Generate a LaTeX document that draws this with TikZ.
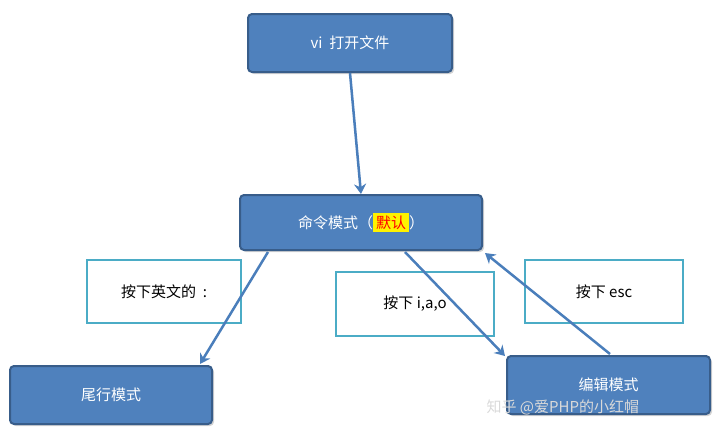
\documentclass[tikz,border=0pt]{standalone}
\usepackage{fontspec}
\setmainfont{Noto Sans CJK SC}
\usetikzlibrary{arrows.meta,shadows}
\definecolor{bfill}{HTML}{4F81BD}
\definecolor{bdraw}{HTML}{385D8A}
\definecolor{tealb}{HTML}{4BACC6}
\definecolor{arr}{HTML}{4A7EBB}
\begin{document}
\begin{tikzpicture}[x=1pt,y=-1pt,
  mode/.style={draw=bdraw,line width=2pt,fill=bfill,rounded corners=4pt,text=white,font=\fontsize{15}{18}\selectfont,drop shadow={opacity=0.35,shadow xshift=2pt,shadow yshift=-2pt}},
  lab/.style={draw=tealb,line width=2.5pt,fill=white,font=\fontsize{15}{18}\selectfont},
  con/.style={draw=arr,line width=2.5pt,-{Stealth[length=10pt,width=12pt]}}]
\useasboundingbox (0,0) rectangle (720,440);
\node[mode,minimum width=204,minimum height=58] (vi) at (350,43) {vi\ \ 打开文件};
\node[mode,minimum width=242,minimum height=55] (cmd) at (361,222.5) {命令模式（\colorbox{yellow}{\color{red}默认}）};
\node[mode,minimum width=202,minimum height=58] (tail) at (111,395) {尾行模式};
\node[mode,minimum width=203,minimum height=58] (edit) at (608.5,385) {编辑模式};
\node[lab,minimum width=154,minimum height=63] (l1) at (164,291.5) {按下英文的\ \ :};
\node[lab,minimum width=158,minimum height=64] (l2) at (415,304) {按下 i,a,o};
\node[lab,minimum width=158,minimum height=63] (l3) at (604,291.5) {按下 esc};
\draw[con] (vi.south) -- (cmd.north);
\coordinate (c1) at (268,252);
\coordinate (t1) at (200,364);
\draw[con] (c1) -- (t1);
\coordinate (c2) at (405,252);
\coordinate (e2) at (505,356);
\draw[con] (c2) -- (e2);
\coordinate (e3) at (610,354);
\coordinate (c3) at (485,253);
\draw[con] (e3) -- (c3);
\node[text=white!85!black,font=\fontsize{15}{18}\selectfont,anchor=west] (wm) at (483,407) {知乎 @爱PHP的小红帽};
\end{tikzpicture}
\end{document}
